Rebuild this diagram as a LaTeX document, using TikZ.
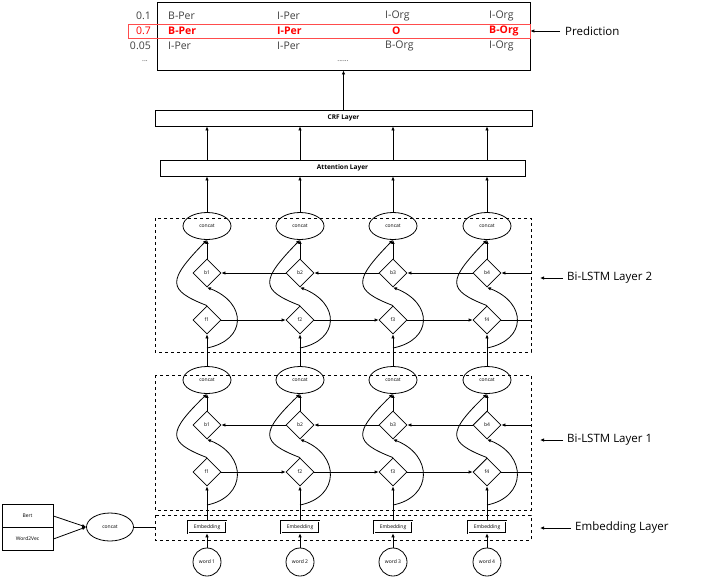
\documentclass[tikz,border=0pt]{standalone}
\usepackage{fontspec}
\setmainfont{Open Sans}
\usetikzlibrary{shapes.geometric,arrows.meta}
\begin{document}
\begin{tikzpicture}[x=1pt,y=-1pt,
 arr/.style={-{Latex[length=4pt,width=3.5pt]},line width=0.8pt},
 ln/.style={line width=0.8pt},
 dia/.style={diamond,draw,line width=0.8pt,minimum width=28pt,minimum height=28pt,inner sep=0pt,font=\fontsize{5}{6}\selectfont},
 cc/.style={ellipse,draw,line width=0.8pt,minimum width=48pt,minimum height=27pt,inner sep=0pt,font=\fontsize{5}{6}\selectfont},
 emb/.style={draw,double,line width=0.5pt,minimum width=38pt,minimum height=12pt,inner sep=1pt,font=\fontsize{5}{6}\selectfont},
 wd/.style={circle,draw,line width=0.8pt,minimum size=28pt,inner sep=0pt,font=\fontsize{5}{6}\selectfont},
 lay/.style={draw,line width=0.8pt,inner sep=0pt,font=\bfseries\fontsize{6.5}{7}\selectfont},
 dbox/.style={draw,dashed,line width=0.9pt},
 pt/.style={font=\fontsize{10.5}{12}\selectfont,text=black!75,inner sep=0pt},
 rt/.style={font=\bfseries\fontsize{10.5}{12}\selectfont,text=red,inner sep=0pt},
 side/.style={font=\fontsize{11.5}{13}\selectfont,anchor=west,inner sep=0pt}]
\useasboundingbox (0,0) rectangle (719,579);
% prediction
\node[draw,line width=0.9pt,minimum width=373pt,minimum height=68pt,inner sep=0pt] (pred) at (343.5,36) {};
\node[draw=red!70,line width=0.7pt,minimum width=402pt,minimum height=14pt,inner sep=0pt] (redrow) at (329,31) {};
\foreach \y/\n/\a/\b/\c/\d [count=\r] in {16/0.1/B-Per/I-Per/I-Org/I-Org,46/0.05/I-Per/I-Per/B-Org/I-Org}{
 \node[pt,anchor=east] (n\r) at (151,\y) {\n};
 \node[pt,anchor=west] (a\r) at (168,\y) {\a};
 \node[pt,anchor=west] (b\r) at (277,\y) {\b};
 \node[pt,anchor=west] (c\r) at (385,\y) {\c};
 \node[pt,anchor=west] (d\r) at (489,\y) {\d};
}
\node[rt,anchor=east,font=\fontsize{10.5}{12}\selectfont] (nr) at (151,31) {0.7};
\node[rt,anchor=west] (ar) at (168,31) {B-Per};
\node[rt,anchor=west] (br) at (277,31) {I-Per};
\node[rt,anchor=west] (cr) at (392,31) {O};
\node[rt,anchor=west] (dr) at (489,31) {B-Org};
\node[pt,anchor=east,font=\fontsize{7}{8}\selectfont] (ndots) at (148,61) {...};
\node[pt,font=\fontsize{7}{8}\selectfont] (mdots) at (343,61) {......};
\node[side] (predlab) at (565,31) {Prediction};
\draw[arr] (predlab.west) ++(-5,0) coordinate (pa) -- (redrow.east);
% layers
\node[lay,minimum width=377pt,minimum height=16pt] (crf) at (343.5,118) {CRF Layer};
\node[lay,minimum width=365pt,minimum height=16pt] (att) at (342.5,168) {Attention Layer};
\draw[arr] (crf.north) -- (pred.south);
% dashed boxes
\draw[dbox] (155,218) rectangle (531,352);
\draw[dbox] (155,375) rectangle (531,510);
\draw[dbox] (155,515) rectangle (531,540);
\node[side] (l2) at (567,278) {Bi-LSTM Layer 2};
\node[side] (l1) at (567,440) {Bi-LSTM Layer 1};
\node[side] (l0) at (575,528) {Embedding Layer};
\coordinate (l2e) at (531,278); \coordinate (l1e) at (531,440); \coordinate (l0e) at (531,528);
\draw[arr] ([xshift=-4pt]l2.west) -- ([xshift=9pt]l2e);
\draw[arr] ([xshift=-4pt]l1.west) -- ([xshift=9pt]l1e);
\draw[arr] ([xshift=-4pt]l0.west) -- ([xshift=9pt]l0e);
% columns
\foreach \x [count=\i] in {207,300,393,487}{
 \node[wd] (w\i) at (\x,562) {word \i};
 \node[emb] (e\i) at (\x,527) {Embedding};
 \node[dia] (fa\i) at (\x,472) {f\i};
 \node[dia] (ba\i) at (\x,425) {b\i};
 \node[cc] (ca\i) at (\x,380) {concat};
 \node[dia] (fb\i) at (\x,320) {f\i};
 \node[dia] (bb\i) at (\x,273) {b\i};
 \node[cc] (cb\i) at (\x,226) {concat};
 \draw[arr] (w\i) -- (e\i);
 \draw[arr] (e\i) -- (fa\i);
 \draw[arr] (ba\i) -- (ca\i);
 \draw[arr] (ca\i) -- (fb\i);
 \draw[arr] (bb\i) -- (cb\i);
 \draw[arr] (cb\i) -- (att.south -| cb\i);
 \draw[arr] (att.north -| cb\i) -- (crf.south -| cb\i);
 \foreach \L/\yf/\yb/\yc/\ys in {a/472/425/380/505, b/320/273/226/348}{
  \draw[arr] (f\L\i.north) .. controls (\x-40,\yf-30) and (\x-40,\yb+8) .. (c\L\i.south);
  \draw[arr] (\x,\ys) .. controls (\x+40,\ys-8) and (\x+40,\yb+30) .. (b\L\i.south);
 }
}
\foreach \L in {a,b}{
 \foreach \i/\j in {1/2,2/3,3/4}{
  \draw[arr] (f\L\i) -- (f\L\j);
  \draw[arr] (b\L\j) -- (b\L\i);
 }
 \coordinate (fr\L) at (531,0);
 \draw[ln] (f\L4.east) -- (f\L4.east -| fr\L);
 \draw[arr] (b\L4.east -| fr\L) -- (b\L4.east);
}
% bert
\node[draw,line width=0.8pt,minimum width=51pt,minimum height=23pt,inner sep=0pt,font=\fontsize{5}{6}\selectfont] (bert) at (27.5,516) {Bert};
\node[draw,line width=0.8pt,minimum width=51pt,minimum height=23pt,inner sep=0pt,font=\fontsize{5}{6}\selectfont] (w2v) at (27.5,539) {Word2Vec};
\node[cc,minimum width=47pt,minimum height=28pt] (c0) at (110,527) {concat};
\draw[arr] (bert.east) -- (c0.west);
\draw[arr] (w2v.east) -- (c0.west);
\coordinate (eb) at (155,527);
\draw[ln] (c0.east) -- (eb);
\end{tikzpicture}
\end{document}
